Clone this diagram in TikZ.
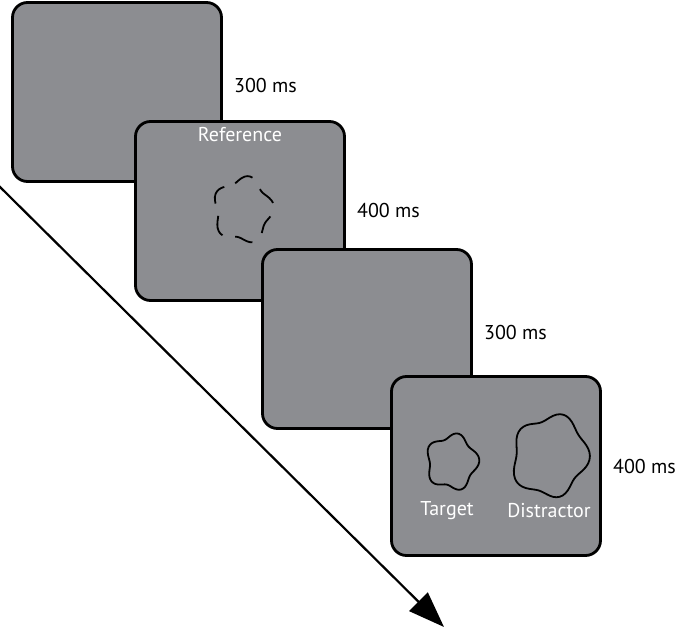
\documentclass[tikz,border=0pt]{standalone}
\usepackage{fontspec}
\setmainfont{PT Sans}
\usepackage{xcolor}
\usepackage{tikz}
\usetikzlibrary{arrows.meta, positioning}
\definecolor{screengray}{RGB}{140,141,145}

\begin{document}
\begin{tikzpicture}[x=1pt, y=-1pt,
  screen/.style={rectangle, draw, line width=2.8pt, fill=screengray, rounded corners=15pt, minimum width=209pt, minimum height=179pt},
  dur/.style={font=\fontsize{20}{24}\selectfont, inner sep=0pt},
  lbl/.style={font=\fontsize{20}{24}\selectfont, text=white, inner sep=0pt},
  blob/.style={line width=1.8pt, line join=round},
  timeline/.style={line width=2.2pt, -{Triangle[length=36pt, width=26pt]}}
]
  \useasboundingbox (0,0) rectangle (675,628);

  \coordinate (tstart) at (-2,185);
  \coordinate (tend) at (444,627);
  \draw[timeline] (tstart) -- (tend);

  \node[screen] (blank) at (117,92) {};
  \node[dur, right=11pt of blank, yshift=6pt] (blankt) {300 ms};

  \node[screen] (ref) at (240,211) {};
  \node[lbl, below=7pt of ref.north] (reflbl) {Reference};
  \node[dur, right=11pt of ref] (reft) {400 ms};
  \coordinate (refc) at (243,210);
  \foreach \k in {0,...,5}
    \draw[blob, shift={(refc)}] plot[smooth, domain={60*\k+12}:{60*\k+48}, samples=8, variable=\t]
      ({cos(\t)*28*(1+0.11*cos(5*\t+30))}, {sin(\t)*31*(1+0.11*cos(5*\t+30))});

  \node[screen] (isi) at (367,339) {};
  \node[dur, right=11pt of isi, yshift=6pt] (isit) {300 ms};

  \node[screen] (test) at (496,466) {};
  \node[dur, right=11pt of test] (testt) {400 ms};
  \coordinate (tgtc) at (452,462);
  \coordinate (disc) at (550,456);
  \draw[blob, shift={(tgtc)}] plot[smooth cycle, domain=0:355, samples=72, variable=\t]
    ({cos(\t)*24*(1+0.11*cos(5*\t+20)+0.03*cos(2*\t))}, {sin(\t)*27*(1+0.11*cos(5*\t+20)+0.03*cos(2*\t))});
  \draw[blob, shift={(disc)}] plot[smooth cycle, domain=0:355, samples=72, variable=\t]
    ({cos(\t)*36*(1+0.09*cos(5*\t-10)+0.04*cos(2*\t+60))}, {sin(\t)*40*(1+0.09*cos(5*\t-10)+0.04*cos(2*\t+60))});
  \node[lbl] (tgtlbl) at (447,511) {Target};
  \node[lbl] (dislbl) at (549,511) {Distractor};
\end{tikzpicture}
\end{document}
